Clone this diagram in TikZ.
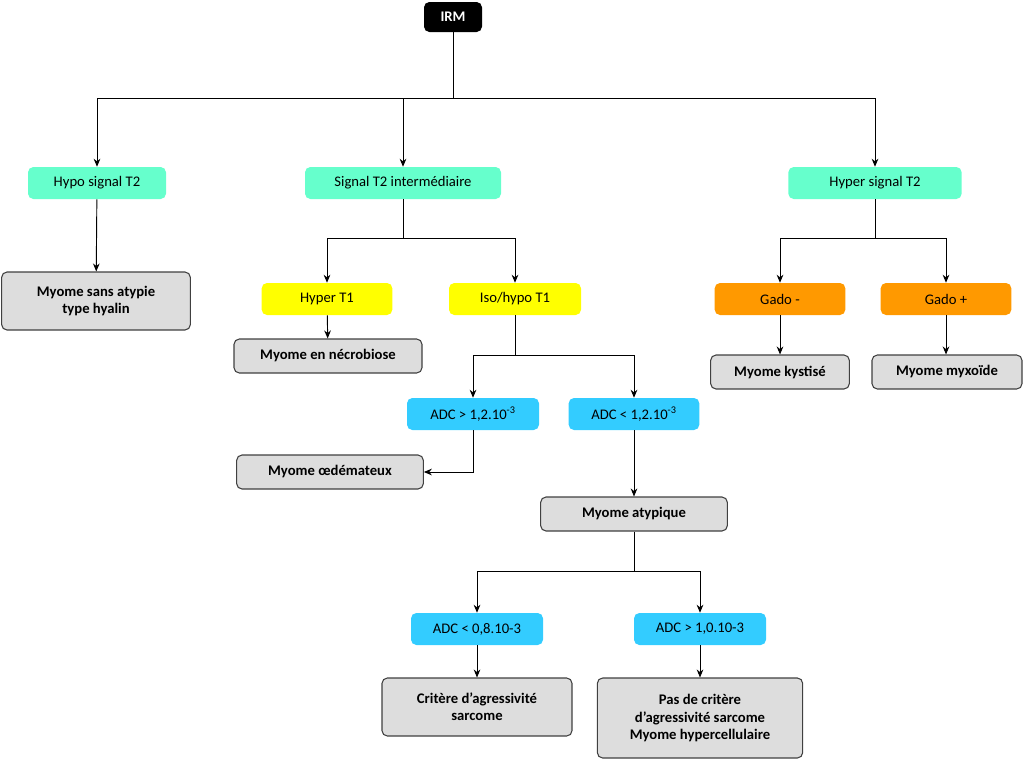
\documentclass[tikz,border=0pt]{standalone}
\usepackage{fontspec}
\setmainfont{Carlito}
\usetikzlibrary{arrows.meta}
\definecolor{aq}{HTML}{66FFCC}
\definecolor{yl}{HTML}{FFFF00}
\definecolor{og}{HTML}{FF9900}
\definecolor{bl}{HTML}{33CCFF}
\definecolor{gr}{HTML}{DDDDDD}
\begin{document}
\begin{tikzpicture}[x=0.75pt,y=-0.75pt,
 box/.style={rounded corners=4pt,minimum height=24pt,inner sep=1pt,align=center,font=\fontsize{11}{13}\selectfont},
 col/.style={box,fill=#1,draw=none},
 res/.style={box,fill=gr,draw=black!75,line width=0.8pt,font=\bfseries\fontsize{11}{13}\selectfont},
 ar/.style={-{Stealth[length=6pt,width=5pt]},line width=0.7pt},
 ln/.style={line width=0.7pt}]
\useasboundingbox (0,0) rectangle (1024,760);
\node[box,fill=black,text=white,font=\bfseries\fontsize{11}{13}\selectfont,minimum width=43.5pt,minimum height=22.5pt] (irm) at (453,17) {IRM};
\node[col=aq,minimum width=103.5pt] (hypo) at (97,183) {Hypo signal T2};
\node[col=aq,minimum width=147pt] (sig) at (403,183) {Signal T2 intermédiaire};
\node[col=aq,minimum width=130pt] (hyper) at (875,183) {Hyper signal T2};
\node[res,minimum width=141.5pt,minimum height=43.5pt] (msa) at (96,301) {Myome sans atypie\\type hyalin};
\node[col=yl,minimum width=98pt] (ht1) at (327,299) {Hyper T1};
\node[col=yl,minimum width=99pt] (iso) at (515,299) {Iso/hypo T1};
\node[res,minimum width=141pt,minimum height=25.5pt] (nec) at (328,356) {Myome en nécrobiose};
\node[col=og,minimum width=98pt] (gm) at (780,299) {Gado -};
\node[col=og,minimum width=98pt] (gp) at (946,299) {Gado +};
\node[res,minimum width=104pt,minimum height=25.5pt] (kys) at (780,372) {Myome kystisé};
\node[res,minimum width=112.5pt,minimum height=25.5pt] (myx) at (947,372) {Myome myxoïde};
\node[col=bl,minimum width=99pt] (a1) at (473,414) {ADC > 1,2.10\textsuperscript{-3}};
\node[col=bl,minimum width=98pt] (a2) at (634,414) {ADC < 1,2.10\textsuperscript{-3}};
\node[res,minimum width=140pt,minimum height=25.5pt] (oed) at (330,472) {Myome œdémateux};
\node[res,minimum width=140pt,minimum height=25.5pt] (aty) at (634,514) {Myome atypique};
\node[col=bl,minimum width=99pt] (a3) at (477,629) {ADC < 0,8.10-3};
\node[col=bl,minimum width=99pt] (a4) at (700,629) {ADC > 1,0.10-3};
\node[res,minimum width=142.5pt,minimum height=43.5pt] (cri) at (477,707) {Critère d’agressivité\\sarcome};
\node[res,minimum width=154pt,minimum height=60pt] (pas) at (700,718) {Pas de critère\\d’agressivité sarcome\\Myome hypercellulaire};
\coordinate (j1) at (453,98);
\draw[ln] (irm.south) -- (j1);
\draw[ar] (j1) -| (hypo.north);
\draw[ar] (j1) -| (sig.north);
\draw[ar] (j1) -| (hyper.north);
\draw[ar] (hypo) -- (msa);
\coordinate (j2) at (403,238);
\draw[ln] (sig.south) -- (j2);
\draw[ar] (j2) -| (ht1.north);
\draw[ar] (j2) -| (iso.north);
\draw[ar] (ht1) -- (nec);
\coordinate (j3) at (875,238);
\draw[ln] (hyper.south) -- (j3);
\draw[ar] (j3) -| (gm.north);
\draw[ar] (j3) -| (gp.north);
\draw[ar] (gm) -- (kys);
\draw[ar] (gp.south) -- (gp.south|-myx.north);
\coordinate (j4) at (515,355);
\draw[ln] (iso.south) -- (j4);
\draw[ar] (j4) -| (a1.north);
\draw[ar] (j4) -| (a2.north);
\draw[ar] (a1.south) |- (oed.east);
\draw[ar] (a2) -- (aty);
\coordinate (j5) at (634,571);
\draw[ln] (aty.south) -- (j5);
\draw[ar] (j5) -| (a3.north);
\draw[ar] (j5) -| (a4.north);
\draw[ar] (a3) -- (cri);
\draw[ar] (a4) -- (pas);
\end{tikzpicture}
\end{document}
